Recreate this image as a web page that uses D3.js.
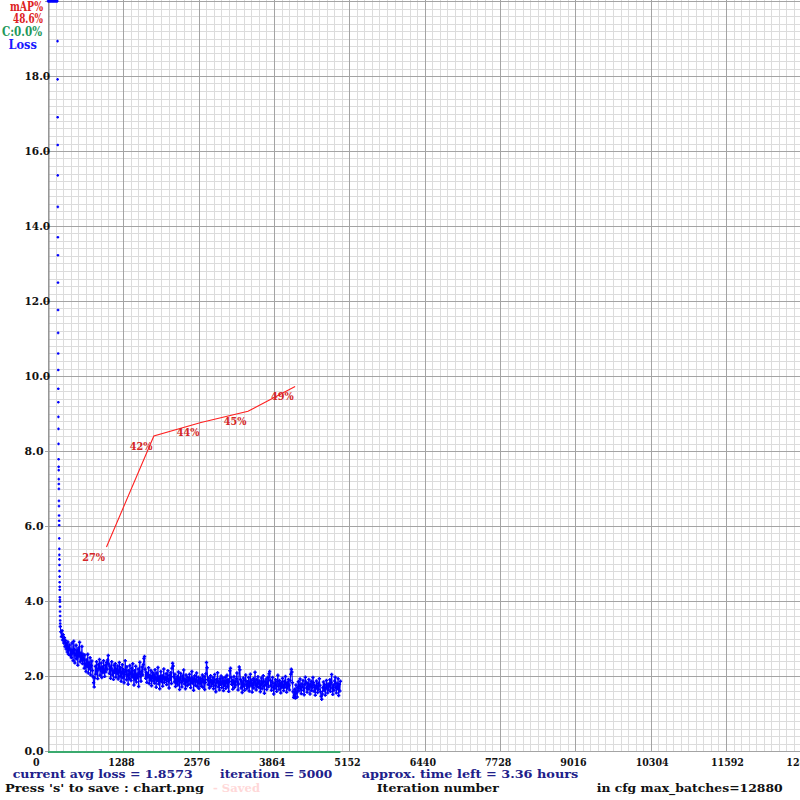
<!DOCTYPE html>
<html><head><meta charset="utf-8">
<script src="https://cdn.jsdelivr.net/npm/d3@7"></script>
<style>
html,body{margin:0;padding:0;background:#fff;}
svg{display:block;}
text{font-family:"DejaVu Serif",serif;font-weight:bold;font-size:11px;}
</style>
</head><body>
<svg id="chart" width="800" height="800"></svg>
<script>
// ---------- data ----------
const maxBatches = 12880;
const maxLoss = 20;
const xTickValues = [0, 1288, 2576, 3864, 5152, 6440, 7728, 9016, 10304, 11592, 12880];
const yTickValues = [0, 2, 4, 6, 8, 10, 12, 14, 16, 18];

// early iterations: loss above chart top (drawn clamped at top edge)
const burnInIters = [0, 10, 20, 30, 40, 50, 60, 70, 80, 90, 100, 110, 120, 130, 140, 150, 160];
const burnInLoss  = [1342, 1120, 980, 760, 512, 388, 240, 155, 98, 64, 47, 36, 30, 26, 23, 21.4, 20.3];

// steep descent, one value per iteration starting at descentStart
const descentStart = 163;
const descentLoss = [18.93, 17.91, 16.90, 16.16, 15.35, 14.51, 13.70, 13.22, 12.49, 11.76,
  11.15, 10.60, 10.16, 9.66, 9.30, 8.91, 8.59, 8.19, 7.78, 7.58,
  7.49, 7.25, 7.12, 6.99, 6.67, 6.53, 6.28, 6.14, 6.02, 5.67,
  5.39, 5.23, 5.11, 4.96, 4.80, 4.65, 4.50, 4.38, 4.30, 4.10,
  4.03, 3.98, 3.85, 3.72, 3.60, 3.48, 3.40];

// loss every lossStep iterations from lossStart
const lossStart = 210, lossStep = 10;
const lossValues = [
  3.32, 3.18, 3.05, 3.21, 2.96, 3.10, 2.88, 3.02, 2.79, 2.95, 2.72, 2.86, 2.64, 2.91, 2.58, 2.77, 2.83, 2.55, 2.70, 2.49,
  2.88, 2.62, 2.41, 2.93, 2.70, 2.35, 2.57, 2.82, 2.46, 2.68, 2.29, 2.75, 2.52, 2.90, 2.38, 2.61, 2.44, 2.79, 2.33, 2.58,
  2.47, 2.21, 2.56, 2.30, 2.12, 2.43, 2.25, 2.58, 2.08, 2.36, 2.19, 2.49, 2.03, 2.28, 2.40, 2.15, 1.98, 1.82, 1.71, 1.95,
  2.26, 2.05, 2.38, 2.14, 1.93, 2.31, 2.20, 2.44, 2.02, 2.17, 2.35, 1.96, 2.24, 2.09, 2.41, 2.13, 1.99, 2.29, 2.11, 2.36,
  2.18, 2.43, 2.55, 2.32, 2.07, 2.26, 1.94, 2.21, 2.38, 2.03, 2.15, 1.91, 2.29, 2.10, 2.33, 1.97, 2.19, 2.06, 2.27, 1.92,
  2.12, 2.36, 1.98, 2.22, 1.86, 2.09, 2.30, 1.95, 2.17, 1.82, 2.04, 2.41, 2.13, 1.90, 2.25, 2.01, 1.78, 2.15, 1.93, 2.28,
  2.07, 1.88, 2.21, 1.97, 2.33, 2.02, 1.76, 2.14, 1.91, 2.26, 1.84, 2.05, 1.95, 2.19, 1.72, 2.08, 2.37, 1.99, 1.86, 2.12,
  2.24, 2.03, 2.31, 2.47, 2.52, 2.18, 1.94, 2.10, 1.83, 2.06, 1.97, 2.22, 1.80, 2.01, 1.89, 2.15, 1.74, 1.98, 2.09, 1.87,
  2.04, 1.81, 2.17, 1.93, 1.70, 2.08, 1.88, 2.23, 1.79, 1.99, 1.66, 1.92, 2.12, 1.85, 2.01, 1.73, 1.95, 2.19, 1.83, 1.97,
  1.90, 2.06, 1.77, 1.94, 2.14, 1.86, 1.68, 2.02, 1.91, 2.09, 1.80, 2.21, 2.34, 2.27, 1.98, 1.84, 2.05, 1.72, 1.93, 1.81,
  1.99, 1.76, 2.11, 1.88, 1.64, 1.95, 2.07, 1.83, 1.71, 2.00, 1.87, 2.16, 1.79, 1.92, 1.66, 2.03, 1.85, 1.74, 1.97, 1.89,
  1.78, 2.05, 1.93, 1.69, 1.86, 2.12, 1.81, 1.95, 1.62, 1.90, 2.01, 1.75, 1.88, 2.08, 1.72, 1.84, 1.97, 1.67, 1.91, 1.80,
  1.94, 1.73, 1.86, 2.03, 1.70, 1.89, 1.98, 1.64, 1.83, 2.06, 2.36, 2.22, 1.90, 1.77, 1.95, 1.68, 1.85, 2.01, 1.73, 1.88,
  1.79, 1.96, 1.66, 1.87, 2.04, 1.74, 1.58, 1.91, 1.82, 2.09, 1.71, 1.86, 1.63, 1.93, 1.78, 2.00, 1.69, 1.84, 1.95, 1.61,
  1.88, 1.75, 1.97, 1.67, 1.83, 2.02, 1.72, 1.90, 1.59, 1.85, 2.14, 2.21, 1.96, 1.78, 1.89, 1.65, 1.81, 1.99, 1.70, 1.86,
  1.76, 1.93, 2.08, 1.84, 1.63, 1.79, 2.24, 2.17, 1.91, 1.68, 1.87, 1.56, 1.80, 1.95, 1.73, 1.62, 1.89, 2.03, 1.77, 1.66,
  1.85, 1.71, 1.96, 1.60, 1.82, 2.05, 1.74, 1.88, 1.57, 1.79, 1.93, 1.68, 1.84, 2.10, 1.76, 1.63, 1.90, 1.72, 1.98, 1.81,
  1.69, 1.87, 1.58, 1.78, 1.95, 1.66, 1.83, 2.01, 1.73, 1.54, 1.86, 1.77, 1.92, 1.64, 1.80, 1.97, 1.71, 2.06, 2.12, 1.89,
  1.75, 1.62, 1.84, 1.96, 1.70, 1.52, 1.81, 1.67, 1.90, 1.76, 1.59, 1.85, 2.02, 1.73, 1.64, 1.88, 1.78, 1.55, 1.83, 1.69,
  1.94, 1.74, 1.61, 1.86, 1.70, 1.99, 1.79, 1.57, 1.83, 1.68, 1.91, 1.75, 1.63, 1.88, 2.05, 2.18, 2.11, 1.82, 1.58, 1.43,
  1.47, 1.65, 1.41, 1.76, 1.55, 1.44, 1.69, 1.85, 1.60, 1.74, 1.92, 1.66, 1.53, 1.79, 1.71, 1.88, 1.62, 1.50, 1.77, 1.97,
  1.84, 1.68, 1.57, 1.80, 1.65, 1.91, 1.73, 1.52, 1.78, 1.86, 1.61, 1.70, 1.96, 1.82, 1.59, 1.75, 1.49, 1.67, 1.87, 1.72,
  1.56, 1.81, 1.64, 1.93, 1.75, 1.58, 1.46, 1.38, 1.52, 1.69, 1.84, 1.61, 1.77, 1.49, 1.66, 1.88, 1.71, 1.55, 1.79, 1.63,
  1.74, 1.90, 1.59, 1.83, 2.04, 1.68, 1.51, 1.76, 1.62, 1.87, 1.97, 1.70, 1.55, 1.81, 1.66, 1.93, 1.48, 1.78, 1.60, 1.86
];

// mAP checkpoints
const mapIters  = [1000, 1810, 2615, 3420, 4225];
const mapValues = [27.2, 42.0, 43.8, 45.3, 48.6];

// contrastive accuracy line
const contrastIters  = [0, 5000];
const contrastValues = [0, 0];

const currentAvgLoss = 1.8573;
const currentIteration = 5000;
const hoursLeft = 3.36;
const lastMap = 48.6;
const lastContrast = 0.0;

// ---------- drawing ----------
(function () {
const svg = d3.select("#chart");
const pL = 48, pR = 801.3, pT = 1, pB = 751;
const x = d3.scaleLinear().domain([0, maxBatches]).range([pL, pR]);
const y = d3.scaleLinear().domain([0, maxLoss]).range([pB, pT]);
const yMap = d3.scaleLinear().domain([0, 100]).range([pB, pT]);

const crisp = v => Math.round(v) + 0.5;

// minor grid
const gMinor = svg.append("g");
gMinor.selectAll("line.vx").data(d3.range(0, 101)).join("line").attr("class", "vx")
  .attr("x1", i => crisp(x(i * maxBatches / 100))).attr("x2", i => crisp(x(i * maxBatches / 100)))
  .attr("y1", 0).attr("y2", pB).attr("stroke", "#dcdcdc").attr("stroke-width", 1);
gMinor.selectAll("line.hy").data(d3.range(0, 101)).join("line").attr("class", "hy")
  .attr("y1", i => crisp(y(i * maxLoss / 100))).attr("y2", i => crisp(y(i * maxLoss / 100)))
  .attr("x1", pL).attr("x2", 800).attr("stroke", "#dcdcdc").attr("stroke-width", 1);

// major grid
const gMajor = svg.append("g");
gMajor.selectAll("line.v").data(xTickValues).join("line").attr("class", "v")
  .attr("x1", d => crisp(x(d))).attr("x2", d => crisp(x(d)))
  .attr("y1", 0).attr("y2", pB).attr("stroke", "#a4a4a4");
gMajor.selectAll("line.h").data(d3.range(0, 11)).join("line").attr("class", "h")
  .attr("y1", i => crisp(y(i * 2))).attr("y2", i => crisp(y(i * 2)))
  .attr("x1", pL - 3).attr("x2", 800).attr("stroke", "#a4a4a4");

// axes
const xAxis = svg.append("g").attr("transform", `translate(0,${pB})`)
  .call(d3.axisBottom(x).tickValues(xTickValues).tickSize(0).tickFormat(d3.format("d")));
xAxis.select(".domain").remove();
xAxis.selectAll("text")
  .attr("y", 14.5).attr("dy", 0).attr("x", -15.5)
  .attr("text-anchor", "start").attr("fill", "#111")
  .style("font-family", '"DejaVu Serif",serif').style("font-weight", "bold").style("font-size", "10.5px")
  .attr("textLength", function () { return this.textContent.length * 6.6; })
  .attr("lengthAdjust", "spacingAndGlyphs");

const yAxis = svg.append("g").attr("transform", `translate(${pL},0)`)
  .call(d3.axisLeft(y).tickValues(yTickValues).tickSize(0).tickFormat(d3.format(".1f")));
yAxis.select(".domain").attr("stroke", "#888").attr("transform", "translate(0.5,0)");
yAxis.selectAll("text")
  .attr("x", -23.5).attr("dy", "0.3em")
  .attr("text-anchor", "start").attr("fill", "#111")
  .style("font-family", '"DejaVu Serif",serif').style("font-weight", "bold").style("font-size", "10.5px")
  .attr("textLength", function () { return (this.textContent.length - 1) * 6.7 + 5.6; })
  .attr("lengthAdjust", "spacingAndGlyphs");

// loss points
const lossPoints = [];
burnInIters.forEach((it, i) => lossPoints.push([it, burnInLoss[i], 0]));
descentLoss.forEach((v, i) => lossPoints.push([descentStart + i, v, 0]));
lossValues.forEach((v, i) => lossPoints.push([lossStart + i * lossStep, v, 1]));
const py = v => Math.max(1.2, y(Math.min(v, maxLoss + 1)));

// dense trace of the noisy loss (fills the band between plotted points)
const trace = lossValues.map((v, i) => [lossStart + i * lossStep, v]);
svg.append("path").datum(trace)
  .attr("d", d3.line().x(d => x(d[0])).y(d => py(d[1])))
  .attr("stroke", "#0000ff").attr("stroke-width", 1.1).attr("fill", "none");

svg.append("g").selectAll("path").data(lossPoints).join("path")
  .attr("d", d => {
    const px = x(d[0]), yy = py(d[1]), h = d[2] ? 1.7 : 1.3;
    return `M${px - h},${yy}h${2 * h}M${px},${yy - h}v${2 * h}`;
  })
  .attr("stroke", "#0000ff").attr("stroke-width", d => d[2] ? 1.5 : 1.3).attr("fill", "none");

// contrastive line (green)
svg.append("path")
  .datum(contrastIters.map((it, i) => [it, contrastValues[i]]))
  .attr("d", d3.line().x(d => x(d[0])).y(d => yMap(d[1]) + 1))
  .attr("stroke", "#3aaa6e").attr("stroke-width", 2).attr("fill", "none");

// mAP line
const mapPts = mapIters.map((it, i) => [it, mapValues[i]]);
svg.append("path").datum(mapPts)
  .attr("d", d3.line().x(d => x(d[0])).y(d => yMap(d[1])))
  .attr("stroke", "#ff2020").attr("stroke-width", 1.1).attr("fill", "none");
svg.append("g").selectAll("text").data(mapPts).join("text")
  .attr("x", d => x(d[0]) - 1.5).attr("y", d => yMap(d[1]) + 13.5)
  .attr("text-anchor", "end").attr("fill", "#d42525")
  .style("font-size", "11.5px")
  .attr("textLength", 22.7).attr("lengthAdjust", "spacingAndGlyphs")
  .text(d => d3.format(".0f")(d[1]) + "%");

// top-left legend
const legend = [
  {t: "mAP%", x: 10, y: 10.5, w: 33, c: "#dd2222"},
  {t: lastMap.toFixed(1) + "%", x: 13, y: 23, w: 30, c: "#dd2222"},
  {t: "C:" + lastContrast.toFixed(1) + "%", x: 2, y: 36, w: 40, c: "#23985a"},
  {t: "Loss", x: 8.5, y: 48.5, w: 28.4, c: "#1a1aff"}
];
svg.append("g").selectAll("text").data(legend).join("text")
  .attr("x", d => d.x).attr("y", d => d.y).attr("fill", d => d.c)
  .style("font-size", "12px")
  .attr("textLength", d => d.w).attr("lengthAdjust", "spacingAndGlyphs")
  .text(d => d.t);

// bottom texts
const footer = [
  {t: "current avg loss = " + currentAvgLoss.toFixed(4), x: 12.7, y: 777.5, w: 180, c: "#20208a"},
  {t: "iteration = " + currentIteration, x: 220, y: 777.5, w: 112.3, c: "#20208a"},
  {t: "approx. time left = " + hoursLeft.toFixed(2) + " hours", x: 361.7, y: 777.5, w: 216.6, c: "#20208a"},
  {t: "Press 's' to save : chart.png", x: 5, y: 792, w: 199, c: "#111"},
  {t: "- Saved", x: 213, y: 792, w: 47, c: "#ffd8d8"},
  {t: "Iteration number", x: 376.7, y: 792, w: 122.3, c: "#111"},
  {t: "in cfg max_batches=" + maxBatches, x: 596.7, y: 792, w: 186, c: "#111"}
];
svg.append("g").selectAll("text").data(footer).join("text")
  .attr("x", d => d.x).attr("y", d => d.y).attr("fill", d => d.c)
  .style("font-size", "11.5px")
  .attr("textLength", d => d.w).attr("lengthAdjust", "spacingAndGlyphs")
  .text(d => d.t);
})();
</script>
</body></html>
